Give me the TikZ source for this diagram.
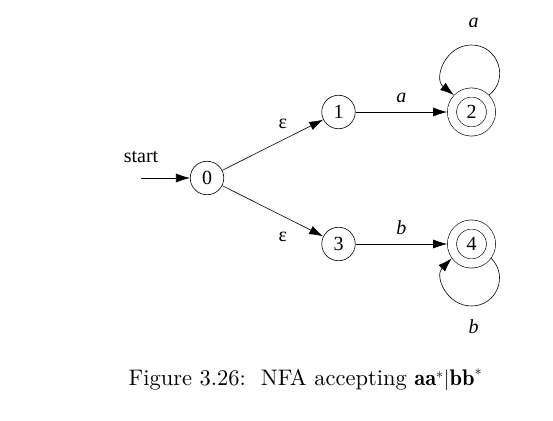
\documentclass[tikz,border=0pt]{standalone}
\usepackage{fontspec}
\newfontfamily\timesfont{Liberation Serif}
\newfontfamily\capfont{lmroman10-regular.otf}
\usetikzlibrary{arrows.meta,positioning}

\begin{document}
\begin{tikzpicture}[x=1pt,y=1pt,>={Latex[length=14pt,width=9pt]},line width=0.6pt,
                    font=\timesfont\fontsize{20}{24}\selectfont,
                    state/.style={circle,draw,minimum size=33.5pt,inner sep=0pt},
                    accepting/.style={circle,draw,double,double distance=8.5pt,
                                      minimum size=39pt,inner sep=0pt,outer sep=4.85pt},
                    lbl/.style={inner sep=2pt}]
  \useasboundingbox (0,0) rectangle (553,420);
  \node[state] (0) at (207,242) {0};
  \node[state] (1) [on grid,above right=66pt and 131.5pt of 0] {1};
  \node[state] (3) [on grid,below right=66pt and 131.5pt of 0] {3};
  \node[accepting] (2) [on grid,right=133pt of 1] {2};
  \node[accepting] (4) [on grid,right=133pt of 3] {4};
  \coordinate[on grid,left=66pt of 0] (s);
  \coordinate[above=67pt of 2.center] (2top);
  \coordinate[below=62pt of 4.center] (4bot);
  \node[lbl] (startlabel) [above=13pt of s] {start};
  \path[->]
    (s) edge (0)
    (0) edge node[lbl,pos=0.6,above=9pt] {ε} (1)
        edge node[lbl,pos=0.6,below=14pt] {ε} (3)
    (1) edge node[lbl,above=7pt] {\textit{a}} (2)
    (3) edge node[lbl,above=7pt] {\textit{b}} (4);
  % self loops
  \draw[->] (2.44) to[out=38,in=0,distance=26.5pt] (2top)
                   to[out=180,in=142,distance=26.5pt] (2.136);
  \draw[->] (4.-36) to[out=-45,in=0,distance=25pt] (4bot)
                    to[out=180,in=-135,distance=25pt] (4.-144);
  \node[lbl] (alabel) [above=14.5pt of 2top,xshift=2pt] {\textit{a}};
  \node[lbl] (blabel) [below=11pt of 4bot,xshift=2pt] {\textit{b}};
  \node[font=\capfont\fontsize{22.5}{27}\selectfont] (caption) at (305.5,40)
    {Figure 3.26:\ \ NFA accepting $\mathbf{aa}^*|\mathbf{bb}^*$};
\end{tikzpicture}
\end{document}
